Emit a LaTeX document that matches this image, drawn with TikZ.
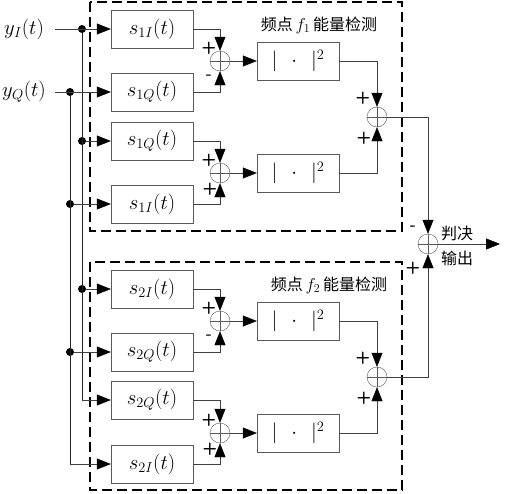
\documentclass[tikz,border=0pt]{standalone}
\usepackage{fontspec}
\newfontfamily\cjk{Noto Sans CJK SC}
\usetikzlibrary{arrows.meta}

\begin{document}
\begin{tikzpicture}[x=1pt,y=-1pt,
    blockbox/.style={draw=black!65, minimum width=82pt, minimum height=38pt, inner sep=0pt, font=\huge},
    sumnode/.style={circle, draw=black!65, minimum size=20pt, inner sep=0pt,
      path picture={\draw[black!65] (path picture bounding box.north) -- (path picture bounding box.south)
        (path picture bounding box.west) -- (path picture bounding box.east);}},
    sign/.style={font=\sffamily\bfseries\fontsize{17}{17}\selectfont, inner sep=0pt},
    dot/.style={circle, fill, inner sep=0pt, minimum size=8pt},
    flow/.style={draw=black!75, -{Triangle[length=14pt,width=11pt,color=black]}},
    wire/.style={draw=black!85},
    detbox/.style={dash pattern=on 10pt off 5pt, line width=1.6pt},
    cjklabel/.style={font=\fontsize{16}{18}\selectfont\cjk}]
        \useasboundingbox (0,0) rectangle (505,493);

        % dashed groups
        \draw[detbox] (90,2) rectangle (402,231);
        \draw[detbox] (90,262) rectangle (402,490);
        \node[cjklabel] (lab1) at (319,25) {频点\,$\mbox{\LARGE$f_1$}$\,能量检测};
        \node[cjklabel] (lab2) at (329,285) {频点\,$\mbox{\LARGE$f_2$}$\,能量检测};

        % inputs
        \node[font=\huge] (yI) at (24,29) {$y_I(t)$};
        \node[font=\huge] (yQ) at (24,92) {$y_Q(t)$};
        \coordinate (iI) at (55,29);
        \coordinate (iQ) at (55,92);

        % filters
        \node[blockbox] (s1a) at (152,29) {$s_{1I}(t)$};
        \node[blockbox] (s1b) at (152,92) {$s_{1Q}(t)$};
        \node[blockbox] (s1c) at (152,141) {$s_{1Q}(t)$};
        \node[blockbox] (s1d) at (152,204) {$s_{1I}(t)$};
        \node[blockbox] (s2a) at (152,289) {$s_{2I}(t)$};
        \node[blockbox] (s2b) at (152,352) {$s_{2Q}(t)$};
        \node[blockbox] (s2c) at (152,400) {$s_{2Q}(t)$};
        \node[blockbox] (s2d) at (152,464) {$s_{2I}(t)$};

        % bus taps
        \node[dot] (dI1) at (82,29) {};
        \node[dot] (dQ1) at (70,92) {};
        \node[dot] (dI2) at (82,141) {};
        \node[dot] (dQ2) at (70,204) {};
        \node[dot] (dI3) at (82,289) {};
        \node[dot] (dQ3) at (70,352) {};
        \coordinate (cI) at (82,400);
        \coordinate (cQ) at (70,464);

        % adders and squarers
        \node[sumnode] (a1) at (220,61) {};
        \node[sumnode] (a2) at (220,173) {};
        \node[sumnode] (a3) at (220,321) {};
        \node[sumnode] (a4) at (220,433) {};
        \node[blockbox] (q1) at (298,61) {$|\hspace{14pt}{\cdot}\hspace{14pt}|^2$};
        \node[blockbox] (q2) at (298,173) {$|\hspace{14pt}{\cdot}\hspace{14pt}|^2$};
        \node[blockbox] (q3) at (298,321) {$|\hspace{14pt}{\cdot}\hspace{14pt}|^2$};
        \node[blockbox] (q4) at (298,433) {$|\hspace{14pt}{\cdot}\hspace{14pt}|^2$};
        \node[sumnode] (b1) at (377,117) {};
        \node[sumnode] (b2) at (377,377) {};
        \node[sumnode] (dec) at (428,244) {};
        \coordinate (out) at (500,244);

        % signs
        \node[sign] at (209,48) {+};
        \node[sign] at (209,77) {-};
        \node[sign] at (209,160) {+};
        \node[sign] at (210,189) {+};
        \node[sign] at (209,308) {+};
        \node[sign] at (209,337) {-};
        \node[sign] at (209,420) {+};
        \node[sign] at (210,449) {+};
        \node[sign] at (363,98) {+};
        \node[sign] at (364,138) {+};
        \node[sign] at (363,358) {+};
        \node[sign] at (364,398) {+};
        \node[sign] at (413,228) {-};
        \node[sign] at (413,268) {+};
        \node[cjklabel] (dtxt) at (457,233) {判决};
        \node[cjklabel] (otxt) at (457,258) {输出};

        % input wiring
        \draw[wire] (dI1) -- (cI);
        \draw[wire] (dQ1) -- (cQ);
        \draw[flow] (iI) -- (s1a);
        \draw[flow] (iQ) -- (s1b);
        \draw[flow] (dI2) -- (s1c);
        \draw[flow] (dQ2) -- (s1d);
        \draw[flow] (dI3) -- (s2a);
        \draw[flow] (dQ3) -- (s2b);
        \draw[flow] (cI) -- (s2c);
        \draw[flow] (cQ) -- (s2d);

        % filter outputs
        \draw[flow] (s1a.east) -| (a1.north);
        \draw[flow] (s1b.east) -| (a1.south);
        \draw[flow] (s1c.east) -| (a2.north);
        \draw[flow] (s1d.east) -| (a2.south);
        \draw[flow] (s2a.east) -| (a3.north);
        \draw[flow] (s2b.east) -| (a3.south);
        \draw[flow] (s2c.east) -| (a4.north);
        \draw[flow] (s2d.east) -| (a4.south);

        \draw[flow] (a1) -- (q1);
        \draw[flow] (a2) -- (q2);
        \draw[flow] (a3) -- (q3);
        \draw[flow] (a4) -- (q4);

        \draw[flow] (q1.east) -| (b1.north);
        \draw[flow] (q2.east) -| (b1.south);
        \draw[flow] (q3.east) -| (b2.north);
        \draw[flow] (q4.east) -| (b2.south);

        \draw[flow] (b1.east) -| (dec.north);
        \draw[flow] (b2.east) -| (dec.south);
        \draw[flow] (dec) -- (out);

    \end{tikzpicture}
\end{document}
